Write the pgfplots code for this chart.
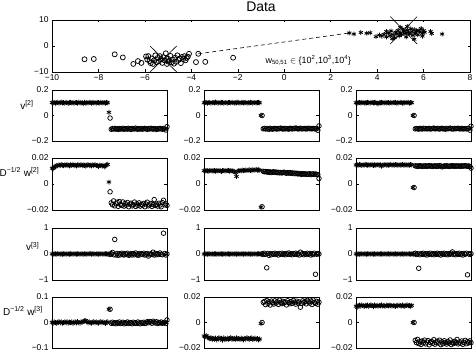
\documentclass[border=0pt]{standalone}
\usepackage{fontspec}
\setmainfont{Liberation Sans}
\usepackage{pgfplots}
\usepackage{pgfplotstable}
\pgfplotsset{compat=1.18}

\pgfplotstableread{
i a b c d e f g h j k l m
1 0.101 0.099 0.100 0.0122 0.0102 0.0146 0.005 -0.003 0.004 0.001 -0.0106 0.0128
2 0.099 0.102 0.098 0.0118 0.0100 0.0148 -0.004 0.006 -0.002 -0.002 -0.0110 0.0120
3 0.103 0.100 0.101 0.0130 0.0103 0.0145 0.008 0.001 0.007 0.002 -0.0103 0.0133
4 0.098 0.097 0.103 0.0136 0.0101 0.0149 0.002 -0.008 -0.005 0.000 -0.0115 0.0136
5 0.100 0.103 0.099 0.0144 0.0099 0.0147 -0.006 0.004 0.003 -0.003 -0.0120 0.0129
6 0.102 0.101 0.100 0.0140 0.0102 0.0144 0.010 0.007 0.008 0.001 -0.0128 0.0138
7 0.097 0.098 0.102 0.0147 0.0104 0.0148 0.003 -0.002 -0.001 0.003 -0.0118 0.0131
8 0.101 0.100 0.097 0.0142 0.0100 0.0146 -0.002 0.005 0.006 -0.001 -0.0133 0.0126
9 0.104 0.102 0.101 0.0149 0.0101 0.0150 0.007 -0.006 0.002 0.002 -0.0124 0.0135
10 0.099 0.099 0.099 0.0145 0.0103 0.0147 -0.005 0.003 -0.006 -0.002 -0.0130 0.0130
11 0.100 0.104 0.102 0.0141 0.0099 0.0145 0.004 0.008 0.005 0.000 -0.0122 0.0137
12 0.098 0.100 0.100 0.0148 0.0102 0.0148 0.009 -0.001 0.001 0.002 -0.0136 0.0127
13 0.102 0.098 0.098 0.0143 0.0100 0.0146 -0.003 0.004 -0.004 -0.001 -0.0127 0.0134
14 0.101 0.101 0.101 0.0150 0.0104 0.0149 0.006 -0.005 0.009 0.003 -0.0119 0.0139
15 0.096 0.099 0.103 0.0146 0.0101 0.0147 0.001 0.006 0.003 -0.002 -0.0131 0.0132
16 0.100 0.103 0.099 0.0139 0.0098 0.0144 -0.007 0.002 -0.002 0.001 -0.0125 0.0125
17 0.103 0.100 0.100 0.0147 0.0102 0.0148 0.005 -0.007 0.006 0.000 -0.0138 0.0136
18 0.099 0.097 0.102 0.0144 0.0103 0.0145 0.008 0.009 -0.007 0.002 -0.0121 0.0130
19 0.101 0.102 0.098 0.0151 0.0100 0.0147 -0.002 0.001 0.004 -0.003 -0.0129 0.0133
20 0.097 0.100 0.092 0.0142 0.0101 0.0149 0.003 -0.003 0.008 0.001 -0.0134 0.0128
21 0.102 0.098 0.101 0.0146 0.0104 0.0146 0.007 0.005 -0.003 0.002 -0.0123 0.0135
22 0.100 0.101 0.099 0.0140 0.0102 0.0148 -0.004 0.007 0.005 -0.001 -0.0130 0.0131
23 0.098 0.103 0.103 0.0148 0.0099 0.0138 0.002 -0.004 0.002 0.003 -0.0126 0.0138
24 0.104 0.099 0.100 0.0145 0.0103 0.0145 0.009 0.002 -0.006 0.000 -0.0117 0.0129
25 0.099 0.100 0.098 0.0143 0.0101 0.0147 -0.006 0.006 0.007 -0.002 -0.0132 0.0134
26 0.101 0.102 0.102 0.0149 0.0100 0.0149 0.004 -0.002 0.001 0.002 -0.0127 0.0127
27 0.100 0.098 0.099 0.0141 0.0096 0.0146 0.006 0.008 -0.004 0.001 -0.0124 0.0136
28 0.093 0.101 0.101 0.0147 0.0088 0.0148 -0.001 0.003 0.009 0.004 -0.0135 0.0132
29 0.102 0.099 0.100 0.0144 0.0058 0.0145 0.008 -0.005 0.003 0.006 -0.0120 0.0130
30 0.098 0.104 0.097 0.0138 0.0097 0.0147 0.003 0.004 -0.002 0.008 -0.0129 0.0137
31 0.101 0.100 0.102 0.0146 0.0102 0.0150 -0.005 0.001 0.006 0.003 -0.0126 0.0133
32 0.099 0.097 0.099 0.0150 0.0104 0.0146 0.006 -0.006 0.004 -0.001 -0.0133 0.0128
33 0.103 0.101 0.101 0.0142 0.0101 0.0148 0.002 0.007 -0.005 0.002 -0.0122 0.0135
34 0.100 0.103 0.100 0.0145 0.0106 0.0145 0.010 0.003 0.002 0.000 -0.0128 0.0131
35 0.097 0.099 0.103 0.0140 0.0103 0.0149 -0.003 -0.002 0.008 -0.002 -0.0136 0.0126
36 0.102 0.100 0.098 0.0147 0.0105 0.0147 0.005 0.009 -0.003 0.001 -0.0124 0.0134
37 0.099 0.102 0.101 0.0143 0.0107 0.0146 0.007 0.004 0.005 0.003 -0.0130 0.0130
38 0.101 0.098 0.099 0.0149 0.0104 0.0148 -0.002 -0.004 0.001 -0.001 -0.0119 0.0137
39 0.098 0.101 0.102 0.0144 0.0106 0.0145 0.004 0.006 -0.006 0.002 -0.0127 0.0132
40 0.103 0.099 0.100 0.0141 0.0108 0.0147 0.008 0.002 0.007 0.000 -0.0132 0.0129
41 0.100 0.103 0.098 0.0135 0.0105 0.0149 -0.006 -0.001 0.003 -0.002 -0.0125 0.0136
42 0.097 0.100 0.101 0.0146 0.0107 0.0146 0.003 0.005 -0.002 0.001 -0.0121 0.0131
43 0.102 0.098 0.099 0.0142 0.0109 0.0148 0.006 -0.007 0.006 0.003 -0.0134 0.0127
44 0.099 0.102 0.103 0.0139 0.0106 0.0147 0.001 0.008 0.004 -0.001 -0.0128 0.0134
45 0.101 0.101 0.100 0.0145 0.0108 0.0145 -0.004 0.003 -0.005 0.002 -0.0123 0.0138
46 0.100 0.099 0.102 0.0132 0.0110 0.0148 0.007 -0.003 0.008 0.000 -0.0131 0.0130
47 0.098 0.100 0.098 0.0140 0.0107 0.0146 0.002 0.006 0.002 -0.003 -0.0126 0.0133
48 0.102 0.103 0.101 0.0147 0.0109 0.0149 0.005 0.001 -0.003 0.001 -0.0137 0.0128
49 0.099 0.099 0.100 0.0151 0.0106 0.0147 -0.003 0.004 0.005 0.002 -0.0129 0.0135
50 0.025 0.000 0.000 0.0015 -0.0178 -0.0027 0.010 -0.010 -0.010 0.052 -0.0008 0.0000
}\stars

\pgfplotstableread{
i a b c d e f g h j k l m
51 -0.020 0.000 0.000 -0.0060 -0.0175 -0.0027 -0.020 0.010 0.010 0.052 0.0000 0.0000
52 -0.108 -0.104 -0.105 -0.0145 0.0098 0.0140 0.010 -0.020 0.030 -0.003 0.0158 -0.0140
53 -0.103 -0.101 -0.102 -0.0160 0.0094 0.0137 0.060 0.030 -0.020 0.001 0.0165 -0.0158
54 -0.106 -0.106 -0.104 -0.0130 0.0096 0.0139 -0.030 -0.010 0.010 -0.004 0.0140 -0.0132
55 -0.101 -0.102 -0.107 -0.0168 0.0092 0.0136 0.560 -0.530 -0.550 -0.001 0.0172 -0.0165
56 -0.107 -0.105 -0.101 -0.0152 0.0095 0.0141 -0.040 0.020 -0.030 -0.005 0.0150 -0.0150
57 -0.104 -0.108 -0.103 -0.0140 0.0090 0.0138 0.020 -0.050 0.020 0.000 0.0162 -0.0172
58 -0.109 -0.100 -0.106 -0.0172 0.0093 0.0135 -0.050 0.010 -0.010 -0.003 0.0137 -0.0145
59 -0.102 -0.104 -0.100 -0.0135 0.0088 0.0139 0.010 -0.030 0.030 0.002 0.0168 -0.0160
60 -0.105 -0.107 -0.104 -0.0158 0.0091 0.0137 -0.030 0.020 -0.020 -0.004 0.0155 -0.0138
61 -0.106 -0.103 -0.102 -0.0165 0.0094 0.0140 0.030 -0.010 0.010 -0.002 0.0145 -0.0168
62 -0.100 -0.101 -0.105 -0.0138 0.0089 0.0136 -0.020 0.030 -0.040 0.001 0.0170 -0.0153
63 -0.108 -0.105 -0.103 -0.0170 0.0092 0.0138 -0.040 -0.020 0.020 -0.005 0.0152 -0.0142
64 -0.104 -0.106 -0.101 -0.0150 0.0087 0.0141 0.020 0.010 -0.010 -0.001 0.0163 -0.0175
65 -0.103 -0.102 -0.106 -0.0162 0.0090 0.0137 -0.010 -0.040 0.030 -0.003 0.0142 -0.0157
66 -0.107 -0.104 -0.104 -0.0142 0.0086 0.0139 0.030 0.020 -0.020 0.002 0.0175 -0.0148
67 -0.101 -0.099 -0.102 -0.0175 0.0089 0.0135 -0.050 -0.010 0.010 -0.004 0.0158 -0.0163
68 -0.105 -0.103 -0.099 -0.0155 0.0085 0.0138 -0.020 0.030 -0.030 0.000 0.0148 -0.0135
69 -0.109 -0.106 -0.105 -0.0148 0.0088 0.0140 0.010 -0.020 0.020 -0.002 0.0166 -0.0170
70 -0.102 -0.101 -0.103 -0.0168 0.0091 0.0136 -0.040 0.010 -0.010 -0.005 0.0154 -0.0155
71 -0.104 -0.105 -0.101 -0.0160 0.0086 0.0139 0.020 -0.030 0.030 0.001 0.0160 -0.0146
72 -0.106 -0.102 -0.104 -0.0139 0.0083 0.0137 -0.030 0.020 -0.020 -0.003 0.0138 -0.0162
73 -0.099 -0.104 -0.106 -0.0173 0.0087 0.0141 0.040 -0.010 0.010 -0.001 0.0171 -0.0139
74 -0.105 -0.107 -0.102 -0.0152 0.0084 0.0138 -0.010 0.040 -0.040 -0.004 0.0156 -0.0174
75 -0.108 -0.100 -0.100 -0.0165 0.0088 0.0132 -0.050 -0.020 0.020 0.002 0.0147 -0.0152
76 -0.103 -0.103 -0.105 -0.0145 0.0082 0.0136 0.020 0.010 -0.010 -0.002 0.0164 -0.0166
77 -0.106 -0.105 -0.103 -0.0170 0.0085 0.0139 -0.030 -0.030 0.030 -0.005 0.0151 -0.0143
78 -0.102 -0.101 -0.107 -0.0157 0.0080 0.0137 0.010 0.020 -0.020 0.000 0.0173 -0.0158
79 -0.107 -0.104 -0.101 -0.0163 0.0084 0.0140 -0.020 -0.010 0.010 -0.003 0.0159 -0.0169
80 -0.104 -0.098 -0.104 -0.0149 0.0079 0.0138 0.030 0.030 -0.030 0.001 0.0144 -0.0149
81 -0.101 -0.102 -0.102 -0.0175 0.0083 0.0135 -0.040 -0.020 0.020 -0.004 0.0167 -0.0161
82 -0.105 -0.106 -0.099 -0.0154 0.0077 0.0139 -0.010 0.010 -0.010 -0.002 0.0153 -0.0137
83 -0.108 -0.103 -0.105 -0.0140 0.0081 0.0137 0.020 -0.040 0.030 0.003 0.0161 -0.0173
84 -0.103 -0.100 -0.103 -0.0168 0.0078 0.0141 -0.080 0.070 0.080 -0.001 0.0120 -0.0154
85 -0.106 -0.105 -0.106 -0.0160 0.0074 0.0138 -0.030 -0.010 -0.020 0.004 0.0149 -0.0165
86 -0.100 -0.102 -0.101 -0.0150 0.0080 0.0136 0.010 0.020 0.010 0.002 0.0170 -0.0147
87 -0.104 -0.104 -0.104 -0.0172 0.0076 0.0140 -0.020 -0.030 -0.030 -0.003 0.0157 -0.0159
88 -0.107 -0.101 -0.102 -0.0158 0.0079 0.0137 0.070 0.010 0.020 0.005 0.0165 -0.0133
89 -0.102 -0.106 -0.100 -0.0120 0.0073 0.0139 -0.040 -0.020 -0.010 0.001 0.0146 -0.0168
90 -0.105 -0.103 -0.105 -0.0165 0.0077 0.0138 0.020 0.030 0.030 -0.002 0.0174 -0.0152
91 -0.109 -0.100 -0.103 -0.0155 0.0075 0.0136 -0.030 -0.010 -0.020 0.003 0.0162 -0.0163
92 -0.103 -0.104 -0.101 -0.0170 0.0079 0.0140 0.010 0.020 0.010 -0.004 0.0152 -0.0145
93 -0.106 -0.102 -0.106 -0.0148 0.0072 0.0137 -0.020 -0.040 -0.040 0.000 0.0168 -0.0171
94 -0.101 -0.105 -0.104 -0.0162 0.0076 0.0139 0.040 0.010 0.020 -0.002 0.0141 -0.0156
95 -0.104 -0.101 -0.102 -0.0175 0.0078 0.0141 -0.010 -0.020 -0.010 0.002 0.0176 -0.0140
96 -0.108 -0.103 -0.105 -0.0143 0.0073 0.0138 -0.030 0.030 0.030 -0.003 0.0158 -0.0167
97 -0.102 -0.106 -0.103 -0.0125 0.0077 0.0136 0.800 -0.780 -0.800 -0.001 0.0150 -0.0150
98 -0.105 -0.102 -0.101 -0.0160 0.0074 0.0139 0.020 -0.010 0.010 0.001 0.0166 -0.0160
99 -0.114 -0.116 -0.115 -0.0152 0.0071 0.0135 -0.040 0.020 -0.020 -0.004 0.0143 -0.0144
100 -0.088 -0.082 -0.084 -0.0165 0.0042 0.0122 0.000 0.000 0.010 0.010 0.0160 -0.0158
}\circs

\pgfplotstableread{
x y
-8.6 -5.1
-8.2 -5.0
-7.3 -3.2
-6.95 -4.4
-6.5 -6.9
-6.15 -6.5
-5.95 -4.0
-5.8 -5.8
-5.7 -4.8
-5.6 -5.5
-5.55 -3.6
-5.5 -6.2
-5.45 -4.6
-5.4 -5.9
-5.35 -3.9
-5.3 -5.1
-5.25 -6.5
-5.2 -4.3
-5.15 -5.6
-5.1 -2.8
-5.05 -6.9
-5.0 -4.9
-4.95 -5.7
-4.9 -3.8
-4.85 -6.3
-4.8 -5.2
-4.7 -4.5
-4.65 -6.1
-4.6 -3.6
-4.55 -5.4
-4.5 -4.8
-4.45 -6.6
-4.4 -4.2
-4.35 -5.0
-4.3 -3.9
-4.25 -5.5
-4.2 -4.6
-4.1 -3.0
-5.75 -6.6
-5.9 -5.2
-6.3 -5.8
-4.75 -6.8
-5.65 -6.9
-4.15 -4.1
-3.8 -6.2
-3.4 -6.1
-2.2 -4.5
-5.85 -3.9
-5.0 -6.0
-3.7 -3.0
}\leftpts

\pgfplotstableread{
x y
2.8 5.0
3.0 4.6
3.3 5.2
3.55 4.9
3.7 5.1
3.95 3.6
4.1 4.2
4.2 3.8
4.3 4.5
4.4 3.5
4.5 5.0
4.55 4.0
4.6 5.8
4.7 4.4
4.75 3.2
4.8 5.3
4.85 4.7
4.9 6.0
4.95 3.9
5.0 5.1
5.05 4.4
5.1 6.5
5.15 5.6
5.2 4.8
5.25 3.5
5.3 6.1
5.35 5.2
5.4 4.5
5.45 6.6
5.5 5.5
5.55 4.1
5.6 6.3
5.65 5.0
5.7 5.8
5.75 4.3
5.8 6.0
5.85 5.4
5.9 6.7
5.95 4.8
6.0 5.9
6.05 5.3
5.0 7.2
5.6 2.6
4.65 2.8
5.3 7.5
6.3 5.6
6.35 4.8
6.8 4.6
5.95 3.8
4.4 5.6
}\rightpts

\pgfplotsset{
  base/.style={scale only axis, anchor=south west, clip=false,
    scaled y ticks=false, scaled x ticks=false,
    axis line style={line width=0.5pt}, tick align=inside,
    major tick length=2.5bp, tick style={line width=0.5pt, black},
    ticklabel style={font=\fontsize{8.5}{9}\selectfont},
    xticklabel style={yshift=1bp}},
  panel/.style={base, width=115bp, xmin=1, xmax=100, xtick=\empty},
  st/.style={only marks, mark=asterisk, mark size=2.5bp, black, mark options={line width=0.75pt}},
  ci/.style={only marks, mark=o, mark size=2.3bp, black, mark options={line width=0.75pt}},
  rA/.style={panel, height=51bp, ymin=-0.2, ymax=0.2, ytick={-0.2,0,0.2}, yticklabels={−0.2,0,0.2}},
  rB/.style={panel, height=52bp, ymin=-0.02, ymax=0.02, ytick={-0.02,0,0.02}, yticklabels={−0.02,0,0.02}},
  rC/.style={panel, height=52bp, ymin=-1, ymax=1, ytick={-1,0,1}, yticklabels={−1,0,1}},
  rD1/.style={panel, height=51bp, ymin=-0.1, ymax=0.1, ytick={-0.1,0,0.1}, yticklabels={−0.1,0,0.1}},
  rD/.style={panel, height=51bp, ymin=-0.02, ymax=0.02, ytick={-0.02,0,0.02}, yticklabels={−0.02,0,0.02}},
}
\newcommand{\lab}{\fontsize{10}{12}\selectfont}

\begin{document}
\begin{tikzpicture}
\useasboundingbox (0,0) rectangle (474bp,353bp);

\node[font=\fontsize{14}{16}\selectfont, anchor=base] at (261bp,341bp) {Data};

% top panel
\begin{axis}[base, width=418bp, height=52bp, at={(52bp,281bp)},
  xmin=-10, xmax=8, ymin=-10, ymax=10,
  xtick={-10,-8,-6,-4,-2,0,2,4,6,8}, xticklabels={−10,−8,−6,−4,−2,0,2,4,6,8},
  ytick={-10,0,10}, yticklabels={−10,0,10}]
\addplot[black, line width=0.6pt, dash pattern=on 4bp off 3bp] coordinates {(-3.7,-3.0) (2.8,5.0)};
\addplot[ci, mark size=2.5bp] table[x=x,y=y]{\leftpts};
\addplot[st, mark size=2.4bp] table[x=x,y=y]{\rightpts};
\addplot[black, line width=0.6pt] coordinates {(-5.78,0.0) (-4.63,-10)};
\addplot[black, line width=0.6pt] coordinates {(-5.78,-10) (-4.63,0.0)};
\addplot[black, line width=0.6pt] coordinates {(4.57,11.3) (5.72,0.8)};
\addplot[black, line width=0.6pt] coordinates {(4.57,0.8) (5.72,11.3)};
\node[anchor=base west, font=\fontsize{9}{10}\selectfont] at (axis cs:-0.95,-6.6)
  {w\textsubscript{50,51} $\in$ \{10\textsuperscript{2},10\textsuperscript{3},10\textsuperscript{4}\}};
\end{axis}

% row 1
\begin{axis}[rA, at={(52bp,212bp)}]
\addplot[st] table[x=i,y=a]{\stars};
\addplot[ci] table[x=i,y=a]{\circs};
\node[anchor=base east, font=\lab] at (rel axis cs:-0.13,0.62) {v\textsuperscript{[2]}};
\end{axis}
\begin{axis}[rA, at={(204bp,212bp)}]
\addplot[st] table[x=i,y=b]{\stars};
\addplot[ci] table[x=i,y=b]{\circs};
\end{axis}
\begin{axis}[rA, at={(356bp,212bp)}]
\addplot[st] table[x=i,y=c]{\stars};
\addplot[ci] table[x=i,y=c]{\circs};
\end{axis}

% row 2
\begin{axis}[rB, at={(52bp,143bp)}]
\addplot[st] table[x=i,y=d]{\stars};
\addplot[ci] table[x=i,y=d]{\circs};
\node[anchor=base east, font=\lab] at (rel axis cs:-0.08,0.65) {D\textsuperscript{−1/2} w\textsuperscript{[2]}};
\end{axis}
\begin{axis}[rB, at={(204bp,143bp)}]
\addplot[st] table[x=i,y=e]{\stars};
\addplot[ci] table[x=i,y=e]{\circs};
\end{axis}
\begin{axis}[rB, at={(356bp,143bp)}]
\addplot[st] table[x=i,y=f]{\stars};
\addplot[ci] table[x=i,y=f]{\circs};
\end{axis}

% row 3
\begin{axis}[rC, at={(52bp,73bp)}]
\addplot[st] table[x=i,y=g]{\stars};
\addplot[ci] table[x=i,y=g]{\circs};
\node[anchor=base east, font=\lab] at (rel axis cs:-0.08,0.56) {v\textsuperscript{[3]}};
\end{axis}
\begin{axis}[rC, at={(204bp,73bp)}]
\addplot[st] table[x=i,y=h]{\stars};
\addplot[ci] table[x=i,y=h]{\circs};
\end{axis}
\begin{axis}[rC, at={(356bp,73bp)}]
\addplot[st] table[x=i,y=j]{\stars};
\addplot[ci] table[x=i,y=j]{\circs};
\end{axis}

% row 4
\begin{axis}[rD1, at={(52bp,5bp)}]
\addplot[st] table[x=i,y=k]{\stars};
\addplot[ci] table[x=i,y=k]{\circs};
\node[anchor=base east, font=\lab] at (rel axis cs:-0.05,0.64) {D\textsuperscript{−1/2} w\textsuperscript{[3]}};
\end{axis}
\begin{axis}[rD, at={(204bp,5bp)}]
\addplot[st] table[x=i,y=l]{\stars};
\addplot[ci] table[x=i,y=l]{\circs};
\end{axis}
\begin{axis}[rD, at={(356bp,5bp)}]
\addplot[st] table[x=i,y=m]{\stars};
\addplot[ci] table[x=i,y=m]{\circs};
\end{axis}
\end{tikzpicture}
\end{document}
